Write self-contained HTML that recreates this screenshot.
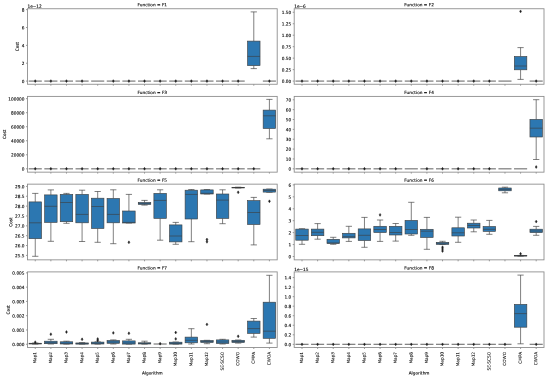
<!DOCTYPE html>
<html lang="en">
<head>
<meta charset="utf-8">
<title>Boxplots of cost per algorithm, functions F1-F8</title>
<style>
html,body{margin:0;padding:0;background:#fff;}
body{width:550px;height:378px;overflow:hidden;}
svg{display:block;}
</style>
</head>
<body>
<svg width="550" height="378" viewBox="0 0 550 378" style="display:block">
<rect width="550" height="378" fill="#fff"/>
<g font-family='"DejaVu Sans", "Liberation Sans", sans-serif' font-size="4.25" fill="#000" stroke="#000" stroke-width="0.12" text-rendering="geometricPrecision">
<g>
<line x1="28.71" x2="41.8" y1="81.1" y2="81.1" stroke="#848484" stroke-width="1.3"/>
<polygon points="35.25,79.65 36.2,81.1 35.25,82.55 34.3,81.1" fill="#1c1c1c" stroke="#1c1c1c" stroke-width="0.45"/>
<line x1="44.32" x2="57.41" y1="81.1" y2="81.1" stroke="#848484" stroke-width="1.3"/>
<polygon points="50.86,79.65 51.81,81.1 50.86,82.55 49.91,81.1" fill="#1c1c1c" stroke="#1c1c1c" stroke-width="0.45"/>
<line x1="59.93" x2="73.02" y1="81.1" y2="81.1" stroke="#848484" stroke-width="1.3"/>
<polygon points="66.47,79.65 67.42,81.1 66.47,82.55 65.52,81.1" fill="#1c1c1c" stroke="#1c1c1c" stroke-width="0.45"/>
<line x1="75.54" x2="88.63" y1="81.1" y2="81.1" stroke="#848484" stroke-width="1.3"/>
<polygon points="82.08,79.65 83.03,81.1 82.08,82.55 81.13,81.1" fill="#1c1c1c" stroke="#1c1c1c" stroke-width="0.45"/>
<line x1="91.15" x2="104.24" y1="81.1" y2="81.1" stroke="#848484" stroke-width="1.3"/>
<line x1="106.76" x2="119.85" y1="81.1" y2="81.1" stroke="#848484" stroke-width="1.3"/>
<polygon points="113.3,79.65 114.25,81.1 113.3,82.55 112.35,81.1" fill="#1c1c1c" stroke="#1c1c1c" stroke-width="0.45"/>
<line x1="122.37" x2="135.45" y1="81.1" y2="81.1" stroke="#848484" stroke-width="1.3"/>
<polygon points="128.91,79.65 129.86,81.1 128.91,82.55 127.96,81.1" fill="#1c1c1c" stroke="#1c1c1c" stroke-width="0.45"/>
<line x1="137.98" x2="151.06" y1="81.1" y2="81.1" stroke="#848484" stroke-width="1.3"/>
<polygon points="144.52,79.65 145.47,81.1 144.52,82.55 143.57,81.1" fill="#1c1c1c" stroke="#1c1c1c" stroke-width="0.45"/>
<line x1="153.59" x2="166.67" y1="81.1" y2="81.1" stroke="#848484" stroke-width="1.3"/>
<polygon points="160.13,79.65 161.08,81.1 160.13,82.55 159.18,81.1" fill="#1c1c1c" stroke="#1c1c1c" stroke-width="0.45"/>
<line x1="169.2" x2="182.28" y1="81.1" y2="81.1" stroke="#848484" stroke-width="1.3"/>
<polygon points="175.74,79.65 176.69,81.1 175.74,82.55 174.79,81.1" fill="#1c1c1c" stroke="#1c1c1c" stroke-width="0.45"/>
<line x1="184.8" x2="197.89" y1="81.1" y2="81.1" stroke="#848484" stroke-width="1.3"/>
<polygon points="191.35,79.65 192.3,81.1 191.35,82.55 190.4,81.1" fill="#1c1c1c" stroke="#1c1c1c" stroke-width="0.45"/>
<line x1="200.41" x2="213.5" y1="81.1" y2="81.1" stroke="#848484" stroke-width="1.3"/>
<polygon points="206.96,79.65 207.91,81.1 206.96,82.55 206.01,81.1" fill="#1c1c1c" stroke="#1c1c1c" stroke-width="0.45"/>
<line x1="216.02" x2="229.11" y1="81.1" y2="81.1" stroke="#848484" stroke-width="1.3"/>
<polygon points="222.57,79.65 223.52,81.1 222.57,82.55 221.62,81.1" fill="#1c1c1c" stroke="#1c1c1c" stroke-width="0.45"/>
<line x1="231.63" x2="244.72" y1="81.1" y2="81.1" stroke="#848484" stroke-width="1.3"/>
<polygon points="238.18,79.65 239.13,81.1 238.18,82.55 237.23,81.1" fill="#1c1c1c" stroke="#1c1c1c" stroke-width="0.45"/>
<path d="M253.79 11.9V41.1M253.79 65.6V68.6M250.66 11.9H256.91M250.66 68.6H256.91" stroke="#3d3d3d" stroke-width="0.66" fill="none"/>
<rect x="247.54" y="41.1" width="12.49" height="24.5" fill="#2c77b1" stroke="#3d3d3d" stroke-width="0.62"/>
<line x1="247.54" x2="260.03" y1="56.4" y2="56.4" stroke="#3d3d3d" stroke-width="0.62"/>
<line x1="262.85" x2="275.94" y1="81.1" y2="81.1" stroke="#848484" stroke-width="1.3"/>
<polygon points="269.4,79.65 270.35,81.1 269.4,82.55 268.45,81.1" fill="#1c1c1c" stroke="#1c1c1c" stroke-width="0.45"/>
<rect x="27.45" y="8.75" width="249.75" height="75.5" fill="none" stroke="#8c8c8c" stroke-width="0.88"/>
<path d="M35.25 84.25v1.46M50.86 84.25v1.46M66.47 84.25v1.46M82.08 84.25v1.46M97.69 84.25v1.46M113.3 84.25v1.46M128.91 84.25v1.46M144.52 84.25v1.46M160.13 84.25v1.46M175.74 84.25v1.46M191.35 84.25v1.46M206.96 84.25v1.46M222.57 84.25v1.46M238.18 84.25v1.46M253.79 84.25v1.46M269.4 84.25v1.46M27.45 81.1h-1.46M27.45 63.23h-1.46M27.45 45.36h-1.46M27.45 27.49h-1.46M27.45 9.62h-1.46" stroke="#8c8c8c" stroke-width="0.88" fill="none"/>
<text transform="translate(24.53 82.88) skewY(0.1)" text-anchor="end">0</text>
<text transform="translate(24.53 65.01) skewY(0.1)" text-anchor="end">2</text>
<text transform="translate(24.53 47.14) skewY(0.1)" text-anchor="end">4</text>
<text transform="translate(24.53 29.27) skewY(0.1)" text-anchor="end">6</text>
<text transform="translate(24.53 11.4) skewY(0.1)" text-anchor="end">8</text>
<text transform="translate(152.32 6.3) skewY(0.1)" text-anchor="middle">Function = F1</text>
<text transform="translate(27.45 7.85) skewY(0.1)">1e−12</text>
<text transform="translate(18.73 46.5) rotate(-90) skewY(0.1)" text-anchor="middle">Cost</text>
</g>
<g>
<line x1="295.46" x2="308.55" y1="81.1" y2="81.1" stroke="#848484" stroke-width="1.3"/>
<polygon points="302.01,79.65 302.96,81.1 302.01,82.55 301.06,81.1" fill="#1c1c1c" stroke="#1c1c1c" stroke-width="0.45"/>
<line x1="311.07" x2="324.16" y1="81.1" y2="81.1" stroke="#848484" stroke-width="1.3"/>
<polygon points="317.62,79.65 318.57,81.1 317.62,82.55 316.67,81.1" fill="#1c1c1c" stroke="#1c1c1c" stroke-width="0.45"/>
<line x1="326.69" x2="339.78" y1="81.1" y2="81.1" stroke="#848484" stroke-width="1.3"/>
<polygon points="333.23,79.65 334.18,81.1 333.23,82.55 332.28,81.1" fill="#1c1c1c" stroke="#1c1c1c" stroke-width="0.45"/>
<line x1="342.3" x2="355.39" y1="81.1" y2="81.1" stroke="#848484" stroke-width="1.3"/>
<polygon points="348.84,79.65 349.79,81.1 348.84,82.55 347.89,81.1" fill="#1c1c1c" stroke="#1c1c1c" stroke-width="0.45"/>
<line x1="357.91" x2="371" y1="81.1" y2="81.1" stroke="#848484" stroke-width="1.3"/>
<polygon points="364.46,79.65 365.41,81.1 364.46,82.55 363.51,81.1" fill="#1c1c1c" stroke="#1c1c1c" stroke-width="0.45"/>
<line x1="373.52" x2="386.61" y1="81.1" y2="81.1" stroke="#848484" stroke-width="1.3"/>
<polygon points="380.07,79.65 381.02,81.1 380.07,82.55 379.12,81.1" fill="#1c1c1c" stroke="#1c1c1c" stroke-width="0.45"/>
<line x1="389.14" x2="402.23" y1="81.1" y2="81.1" stroke="#848484" stroke-width="1.3"/>
<polygon points="395.68,79.65 396.63,81.1 395.68,82.55 394.73,81.1" fill="#1c1c1c" stroke="#1c1c1c" stroke-width="0.45"/>
<line x1="404.75" x2="417.84" y1="81.1" y2="81.1" stroke="#848484" stroke-width="1.3"/>
<polygon points="411.29,79.65 412.24,81.1 411.29,82.55 410.34,81.1" fill="#1c1c1c" stroke="#1c1c1c" stroke-width="0.45"/>
<line x1="420.36" x2="433.45" y1="81.1" y2="81.1" stroke="#848484" stroke-width="1.3"/>
<polygon points="426.91,79.65 427.86,81.1 426.91,82.55 425.96,81.1" fill="#1c1c1c" stroke="#1c1c1c" stroke-width="0.45"/>
<line x1="435.97" x2="449.06" y1="81.1" y2="81.1" stroke="#848484" stroke-width="1.3"/>
<polygon points="442.52,79.65 443.47,81.1 442.52,82.55 441.57,81.1" fill="#1c1c1c" stroke="#1c1c1c" stroke-width="0.45"/>
<line x1="451.59" x2="464.68" y1="81.1" y2="81.1" stroke="#848484" stroke-width="1.3"/>
<polygon points="458.13,79.65 459.08,81.1 458.13,82.55 457.18,81.1" fill="#1c1c1c" stroke="#1c1c1c" stroke-width="0.45"/>
<line x1="467.2" x2="480.29" y1="81.1" y2="81.1" stroke="#848484" stroke-width="1.3"/>
<polygon points="473.74,79.65 474.69,81.1 473.74,82.55 472.79,81.1" fill="#1c1c1c" stroke="#1c1c1c" stroke-width="0.45"/>
<line x1="482.81" x2="495.9" y1="81.1" y2="81.1" stroke="#848484" stroke-width="1.3"/>
<polygon points="489.36,79.65 490.31,81.1 489.36,82.55 488.41,81.1" fill="#1c1c1c" stroke="#1c1c1c" stroke-width="0.45"/>
<line x1="498.42" x2="511.51" y1="81.1" y2="81.1" stroke="#848484" stroke-width="1.3"/>
<path d="M520.58 47.6V56.5M520.58 69.8V79.4M517.46 47.6H523.7M517.46 79.4H523.7" stroke="#3d3d3d" stroke-width="0.66" fill="none"/>
<rect x="514.34" y="56.5" width="12.49" height="13.3" fill="#2c77b1" stroke="#3d3d3d" stroke-width="0.62"/>
<line x1="514.34" x2="526.83" y1="66" y2="66" stroke="#3d3d3d" stroke-width="0.62"/>
<polygon points="520.58,9.95 521.53,11.4 520.58,12.85 519.63,11.4" fill="#1c1c1c" stroke="#1c1c1c" stroke-width="0.45"/>
<line x1="529.65" x2="542.74" y1="81.1" y2="81.1" stroke="#848484" stroke-width="1.3"/>
<polygon points="536.19,79.65 537.14,81.1 536.19,82.55 535.24,81.1" fill="#1c1c1c" stroke="#1c1c1c" stroke-width="0.45"/>
<rect x="294.2" y="8.75" width="249.8" height="75.5" fill="none" stroke="#8c8c8c" stroke-width="0.88"/>
<path d="M302.01 84.25v1.46M317.62 84.25v1.46M333.23 84.25v1.46M348.84 84.25v1.46M364.46 84.25v1.46M380.07 84.25v1.46M395.68 84.25v1.46M411.29 84.25v1.46M426.91 84.25v1.46M442.52 84.25v1.46M458.13 84.25v1.46M473.74 84.25v1.46M489.36 84.25v1.46M504.97 84.25v1.46M520.58 84.25v1.46M536.19 84.25v1.46M294.2 81.1h-1.46M294.2 69.63h-1.46M294.2 58.16h-1.46M294.2 46.69h-1.46M294.2 35.22h-1.46M294.2 23.75h-1.46M294.2 12.28h-1.46" stroke="#8c8c8c" stroke-width="0.88" fill="none"/>
<text transform="translate(291.28 82.88) skewY(0.1)" text-anchor="end">0.00</text>
<text transform="translate(291.28 71.41) skewY(0.1)" text-anchor="end">0.25</text>
<text transform="translate(291.28 59.94) skewY(0.1)" text-anchor="end">0.50</text>
<text transform="translate(291.28 48.47) skewY(0.1)" text-anchor="end">0.75</text>
<text transform="translate(291.28 37) skewY(0.1)" text-anchor="end">1.00</text>
<text transform="translate(291.28 25.53) skewY(0.1)" text-anchor="end">1.25</text>
<text transform="translate(291.28 14.06) skewY(0.1)" text-anchor="end">1.50</text>
<text transform="translate(419.1 6.3) skewY(0.1)" text-anchor="middle">Function = F2</text>
<text transform="translate(294.2 7.85) skewY(0.1)">1e−6</text>
</g>
<g>
<line x1="28.71" x2="41.8" y1="168.8" y2="168.8" stroke="#848484" stroke-width="1.3"/>
<polygon points="35.25,167.35 36.2,168.8 35.25,170.25 34.3,168.8" fill="#1c1c1c" stroke="#1c1c1c" stroke-width="0.45"/>
<line x1="44.32" x2="57.41" y1="168.8" y2="168.8" stroke="#848484" stroke-width="1.3"/>
<polygon points="50.86,167.35 51.81,168.8 50.86,170.25 49.91,168.8" fill="#1c1c1c" stroke="#1c1c1c" stroke-width="0.45"/>
<line x1="59.93" x2="73.02" y1="168.8" y2="168.8" stroke="#848484" stroke-width="1.3"/>
<polygon points="66.47,167.35 67.42,168.8 66.47,170.25 65.52,168.8" fill="#1c1c1c" stroke="#1c1c1c" stroke-width="0.45"/>
<line x1="75.54" x2="88.63" y1="168.8" y2="168.8" stroke="#848484" stroke-width="1.3"/>
<polygon points="82.08,167.35 83.03,168.8 82.08,170.25 81.13,168.8" fill="#1c1c1c" stroke="#1c1c1c" stroke-width="0.45"/>
<line x1="91.15" x2="104.24" y1="168.8" y2="168.8" stroke="#848484" stroke-width="1.3"/>
<polygon points="97.69,167.35 98.64,168.8 97.69,170.25 96.74,168.8" fill="#1c1c1c" stroke="#1c1c1c" stroke-width="0.45"/>
<line x1="106.76" x2="119.85" y1="168.8" y2="168.8" stroke="#848484" stroke-width="1.3"/>
<polygon points="113.3,167.35 114.25,168.8 113.3,170.25 112.35,168.8" fill="#1c1c1c" stroke="#1c1c1c" stroke-width="0.45"/>
<line x1="122.37" x2="135.45" y1="168.8" y2="168.8" stroke="#848484" stroke-width="1.3"/>
<polygon points="128.91,167.35 129.86,168.8 128.91,170.25 127.96,168.8" fill="#1c1c1c" stroke="#1c1c1c" stroke-width="0.45"/>
<line x1="137.98" x2="151.06" y1="168.8" y2="168.8" stroke="#848484" stroke-width="1.3"/>
<polygon points="144.52,167.35 145.47,168.8 144.52,170.25 143.57,168.8" fill="#1c1c1c" stroke="#1c1c1c" stroke-width="0.45"/>
<line x1="153.59" x2="166.67" y1="168.8" y2="168.8" stroke="#848484" stroke-width="1.3"/>
<polygon points="160.13,167.35 161.08,168.8 160.13,170.25 159.18,168.8" fill="#1c1c1c" stroke="#1c1c1c" stroke-width="0.45"/>
<line x1="169.2" x2="182.28" y1="168.8" y2="168.8" stroke="#848484" stroke-width="1.3"/>
<polygon points="175.74,167.35 176.69,168.8 175.74,170.25 174.79,168.8" fill="#1c1c1c" stroke="#1c1c1c" stroke-width="0.45"/>
<line x1="184.8" x2="197.89" y1="168.8" y2="168.8" stroke="#848484" stroke-width="1.3"/>
<polygon points="191.35,167.35 192.3,168.8 191.35,170.25 190.4,168.8" fill="#1c1c1c" stroke="#1c1c1c" stroke-width="0.45"/>
<line x1="200.41" x2="213.5" y1="168.8" y2="168.8" stroke="#848484" stroke-width="1.3"/>
<polygon points="206.96,167.35 207.91,168.8 206.96,170.25 206.01,168.8" fill="#1c1c1c" stroke="#1c1c1c" stroke-width="0.45"/>
<line x1="216.02" x2="229.11" y1="168.8" y2="168.8" stroke="#848484" stroke-width="1.3"/>
<polygon points="222.57,167.35 223.52,168.8 222.57,170.25 221.62,168.8" fill="#1c1c1c" stroke="#1c1c1c" stroke-width="0.45"/>
<line x1="231.63" x2="244.72" y1="168.8" y2="168.8" stroke="#848484" stroke-width="1.3"/>
<polygon points="238.18,167.35 239.13,168.8 238.18,170.25 237.23,168.8" fill="#1c1c1c" stroke="#1c1c1c" stroke-width="0.45"/>
<line x1="247.24" x2="260.33" y1="168.8" y2="168.8" stroke="#848484" stroke-width="1.3"/>
<polygon points="253.79,167.35 254.74,168.8 253.79,170.25 252.84,168.8" fill="#1c1c1c" stroke="#1c1c1c" stroke-width="0.45"/>
<path d="M269.4 99.4V110.1M269.4 128.5V138.8M266.27 99.4H272.52M266.27 138.8H272.52" stroke="#3d3d3d" stroke-width="0.66" fill="none"/>
<rect x="263.15" y="110.1" width="12.49" height="18.4" fill="#2c77b1" stroke="#3d3d3d" stroke-width="0.62"/>
<line x1="263.15" x2="275.64" y1="115.8" y2="115.8" stroke="#3d3d3d" stroke-width="0.62"/>
<rect x="27.45" y="96.4" width="249.75" height="75.75" fill="none" stroke="#8c8c8c" stroke-width="0.88"/>
<path d="M35.25 172.15v1.46M50.86 172.15v1.46M66.47 172.15v1.46M82.08 172.15v1.46M97.69 172.15v1.46M113.3 172.15v1.46M128.91 172.15v1.46M144.52 172.15v1.46M160.13 172.15v1.46M175.74 172.15v1.46M191.35 172.15v1.46M206.96 172.15v1.46M222.57 172.15v1.46M238.18 172.15v1.46M253.79 172.15v1.46M269.4 172.15v1.46M27.45 168.8h-1.46M27.45 154.77h-1.46M27.45 140.74h-1.46M27.45 126.71h-1.46M27.45 112.68h-1.46M27.45 98.65h-1.46" stroke="#8c8c8c" stroke-width="0.88" fill="none"/>
<text transform="translate(24.53 170.58) skewY(0.1)" text-anchor="end">0</text>
<text transform="translate(24.53 156.55) skewY(0.1)" text-anchor="end">20000</text>
<text transform="translate(24.53 142.52) skewY(0.1)" text-anchor="end">40000</text>
<text transform="translate(24.53 128.49) skewY(0.1)" text-anchor="end">60000</text>
<text transform="translate(24.53 114.46) skewY(0.1)" text-anchor="end">80000</text>
<text transform="translate(24.53 100.43) skewY(0.1)" text-anchor="end">100000</text>
<text transform="translate(152.32 93.95) skewY(0.1)" text-anchor="middle">Function = F3</text>
<text transform="translate(5.93 134.28) rotate(-90) skewY(0.1)" text-anchor="middle">Cost</text>
</g>
<g>
<line x1="295.46" x2="308.55" y1="168.8" y2="168.8" stroke="#848484" stroke-width="1.3"/>
<polygon points="302.01,167.35 302.96,168.8 302.01,170.25 301.06,168.8" fill="#1c1c1c" stroke="#1c1c1c" stroke-width="0.45"/>
<line x1="311.07" x2="324.16" y1="168.8" y2="168.8" stroke="#848484" stroke-width="1.3"/>
<polygon points="317.62,167.35 318.57,168.8 317.62,170.25 316.67,168.8" fill="#1c1c1c" stroke="#1c1c1c" stroke-width="0.45"/>
<line x1="326.69" x2="339.78" y1="168.8" y2="168.8" stroke="#848484" stroke-width="1.3"/>
<polygon points="333.23,167.35 334.18,168.8 333.23,170.25 332.28,168.8" fill="#1c1c1c" stroke="#1c1c1c" stroke-width="0.45"/>
<line x1="342.3" x2="355.39" y1="168.8" y2="168.8" stroke="#848484" stroke-width="1.3"/>
<polygon points="348.84,167.35 349.79,168.8 348.84,170.25 347.89,168.8" fill="#1c1c1c" stroke="#1c1c1c" stroke-width="0.45"/>
<line x1="357.91" x2="371" y1="168.8" y2="168.8" stroke="#848484" stroke-width="1.3"/>
<polygon points="364.46,167.35 365.41,168.8 364.46,170.25 363.51,168.8" fill="#1c1c1c" stroke="#1c1c1c" stroke-width="0.45"/>
<line x1="373.52" x2="386.61" y1="168.8" y2="168.8" stroke="#848484" stroke-width="1.3"/>
<polygon points="380.07,167.35 381.02,168.8 380.07,170.25 379.12,168.8" fill="#1c1c1c" stroke="#1c1c1c" stroke-width="0.45"/>
<line x1="389.14" x2="402.23" y1="168.8" y2="168.8" stroke="#848484" stroke-width="1.3"/>
<polygon points="395.68,167.35 396.63,168.8 395.68,170.25 394.73,168.8" fill="#1c1c1c" stroke="#1c1c1c" stroke-width="0.45"/>
<line x1="404.75" x2="417.84" y1="168.8" y2="168.8" stroke="#848484" stroke-width="1.3"/>
<line x1="420.36" x2="433.45" y1="168.8" y2="168.8" stroke="#848484" stroke-width="1.3"/>
<polygon points="426.91,167.35 427.86,168.8 426.91,170.25 425.96,168.8" fill="#1c1c1c" stroke="#1c1c1c" stroke-width="0.45"/>
<line x1="435.97" x2="449.06" y1="168.8" y2="168.8" stroke="#848484" stroke-width="1.3"/>
<polygon points="442.52,167.35 443.47,168.8 442.52,170.25 441.57,168.8" fill="#1c1c1c" stroke="#1c1c1c" stroke-width="0.45"/>
<line x1="451.59" x2="464.68" y1="168.8" y2="168.8" stroke="#848484" stroke-width="1.3"/>
<polygon points="458.13,167.35 459.08,168.8 458.13,170.25 457.18,168.8" fill="#1c1c1c" stroke="#1c1c1c" stroke-width="0.45"/>
<line x1="467.2" x2="480.29" y1="168.8" y2="168.8" stroke="#848484" stroke-width="1.3"/>
<polygon points="473.74,167.35 474.69,168.8 473.74,170.25 472.79,168.8" fill="#1c1c1c" stroke="#1c1c1c" stroke-width="0.45"/>
<line x1="482.81" x2="495.9" y1="168.8" y2="168.8" stroke="#848484" stroke-width="1.3"/>
<polygon points="489.36,167.35 490.31,168.8 489.36,170.25 488.41,168.8" fill="#1c1c1c" stroke="#1c1c1c" stroke-width="0.45"/>
<line x1="498.42" x2="511.51" y1="168.8" y2="168.8" stroke="#848484" stroke-width="1.3"/>
<line x1="514.04" x2="527.13" y1="168.8" y2="168.8" stroke="#848484" stroke-width="1.3"/>
<path d="M536.19 99.7V119.4M536.19 137V159.5M533.07 99.7H539.32M533.07 159.5H539.32" stroke="#3d3d3d" stroke-width="0.66" fill="none"/>
<rect x="529.95" y="119.4" width="12.49" height="17.6" fill="#2c77b1" stroke="#3d3d3d" stroke-width="0.62"/>
<line x1="529.95" x2="542.44" y1="128.2" y2="128.2" stroke="#3d3d3d" stroke-width="0.62"/>
<polygon points="536.19,165.55 537.14,167 536.19,168.45 535.24,167" fill="#1c1c1c" stroke="#1c1c1c" stroke-width="0.45"/>
<rect x="294.2" y="96.4" width="249.8" height="75.75" fill="none" stroke="#8c8c8c" stroke-width="0.88"/>
<path d="M302.01 172.15v1.46M317.62 172.15v1.46M333.23 172.15v1.46M348.84 172.15v1.46M364.46 172.15v1.46M380.07 172.15v1.46M395.68 172.15v1.46M411.29 172.15v1.46M426.91 172.15v1.46M442.52 172.15v1.46M458.13 172.15v1.46M473.74 172.15v1.46M489.36 172.15v1.46M504.97 172.15v1.46M520.58 172.15v1.46M536.19 172.15v1.46M294.2 168.8h-1.46M294.2 158.94h-1.46M294.2 149.08h-1.46M294.2 139.22h-1.46M294.2 129.36h-1.46M294.2 119.5h-1.46M294.2 109.64h-1.46M294.2 99.78h-1.46" stroke="#8c8c8c" stroke-width="0.88" fill="none"/>
<text transform="translate(291.28 170.58) skewY(0.1)" text-anchor="end">0</text>
<text transform="translate(291.28 160.72) skewY(0.1)" text-anchor="end">10</text>
<text transform="translate(291.28 150.86) skewY(0.1)" text-anchor="end">20</text>
<text transform="translate(291.28 141) skewY(0.1)" text-anchor="end">30</text>
<text transform="translate(291.28 131.14) skewY(0.1)" text-anchor="end">40</text>
<text transform="translate(291.28 121.28) skewY(0.1)" text-anchor="end">50</text>
<text transform="translate(291.28 111.42) skewY(0.1)" text-anchor="end">60</text>
<text transform="translate(291.28 101.56) skewY(0.1)" text-anchor="end">70</text>
<text transform="translate(419.1 93.95) skewY(0.1)" text-anchor="middle">Function = F4</text>
</g>
<g>
<path d="M35.25 193.4V201.9M35.25 238.7V256.3M32.13 193.4H38.38M32.13 256.3H38.38" stroke="#3d3d3d" stroke-width="0.66" fill="none"/>
<rect x="29.01" y="201.9" width="12.49" height="36.8" fill="#2c77b1" stroke="#3d3d3d" stroke-width="0.62"/>
<line x1="29.01" x2="41.5" y1="222.8" y2="222.8" stroke="#3d3d3d" stroke-width="0.62"/>
<path d="M50.86 189.9V194.9M50.86 222.4V241.3M47.74 189.9H53.99M47.74 241.3H53.99" stroke="#3d3d3d" stroke-width="0.66" fill="none"/>
<rect x="44.62" y="194.9" width="12.49" height="27.5" fill="#2c77b1" stroke="#3d3d3d" stroke-width="0.62"/>
<line x1="44.62" x2="57.11" y1="206.3" y2="206.3" stroke="#3d3d3d" stroke-width="0.62"/>
<path d="M66.47 193.4V194.4M66.47 221.7V223.3M63.35 193.4H69.6M63.35 223.3H69.6" stroke="#3d3d3d" stroke-width="0.66" fill="none"/>
<rect x="60.23" y="194.4" width="12.49" height="27.3" fill="#2c77b1" stroke="#3d3d3d" stroke-width="0.62"/>
<line x1="60.23" x2="72.72" y1="202.5" y2="202.5" stroke="#3d3d3d" stroke-width="0.62"/>
<path d="M82.08 190.2V194.4M82.08 222.8V241.5M78.96 190.2H85.2M78.96 241.5H85.2" stroke="#3d3d3d" stroke-width="0.66" fill="none"/>
<rect x="75.84" y="194.4" width="12.49" height="28.4" fill="#2c77b1" stroke="#3d3d3d" stroke-width="0.62"/>
<line x1="75.84" x2="88.33" y1="214.4" y2="214.4" stroke="#3d3d3d" stroke-width="0.62"/>
<path d="M97.69 191.5V198.2M97.69 228.5V242.3M94.57 191.5H100.81M94.57 242.3H100.81" stroke="#3d3d3d" stroke-width="0.66" fill="none"/>
<rect x="91.45" y="198.2" width="12.49" height="30.3" fill="#2c77b1" stroke="#3d3d3d" stroke-width="0.62"/>
<line x1="91.45" x2="103.94" y1="206.5" y2="206.5" stroke="#3d3d3d" stroke-width="0.62"/>
<path d="M113.3 189.8V198.5M113.3 222.8V243.7M110.18 189.8H116.42M110.18 243.7H116.42" stroke="#3d3d3d" stroke-width="0.66" fill="none"/>
<rect x="107.06" y="198.5" width="12.49" height="24.3" fill="#2c77b1" stroke="#3d3d3d" stroke-width="0.62"/>
<line x1="107.06" x2="119.55" y1="214.4" y2="214.4" stroke="#3d3d3d" stroke-width="0.62"/>
<path d="M128.91 194.4V211M128.91 223V223M125.79 194.4H132.03M125.79 223H132.03" stroke="#3d3d3d" stroke-width="0.66" fill="none"/>
<rect x="122.67" y="211" width="12.49" height="12" fill="#2c77b1" stroke="#3d3d3d" stroke-width="0.62"/>
<line x1="122.67" x2="135.15" y1="222.4" y2="222.4" stroke="#3d3d3d" stroke-width="0.62"/>
<polygon points="128.91,240.85 129.86,242.3 128.91,243.75 127.96,242.3" fill="#1c1c1c" stroke="#1c1c1c" stroke-width="0.45"/>
<path d="M144.52 200.4V202.5M144.52 204.4V205.1M141.4 200.4H147.64M141.4 205.1H147.64" stroke="#3d3d3d" stroke-width="0.66" fill="none"/>
<rect x="138.28" y="202.5" width="12.49" height="1.9" fill="#2c77b1" stroke="#3d3d3d" stroke-width="0.62"/>
<line x1="138.28" x2="150.76" y1="203.4" y2="203.4" stroke="#3d3d3d" stroke-width="0.62"/>
<path d="M160.13 189.8V193.4M160.13 218.4V240.2M157.01 189.8H163.25M157.01 240.2H163.25" stroke="#3d3d3d" stroke-width="0.66" fill="none"/>
<rect x="153.89" y="193.4" width="12.49" height="25" fill="#2c77b1" stroke="#3d3d3d" stroke-width="0.62"/>
<line x1="153.89" x2="166.37" y1="200.4" y2="200.4" stroke="#3d3d3d" stroke-width="0.62"/>
<path d="M175.74 222.4V224.9M175.74 241.9V244.3M172.62 222.4H178.86M172.62 244.3H178.86" stroke="#3d3d3d" stroke-width="0.66" fill="none"/>
<rect x="169.5" y="224.9" width="12.49" height="17" fill="#2c77b1" stroke="#3d3d3d" stroke-width="0.62"/>
<line x1="169.5" x2="181.98" y1="236" y2="236" stroke="#3d3d3d" stroke-width="0.62"/>
<path d="M191.35 189.5V190.2M191.35 219V241.7M188.23 189.5H194.47M188.23 241.7H194.47" stroke="#3d3d3d" stroke-width="0.66" fill="none"/>
<rect x="185.1" y="190.2" width="12.49" height="28.8" fill="#2c77b1" stroke="#3d3d3d" stroke-width="0.62"/>
<line x1="185.1" x2="197.59" y1="194.4" y2="194.4" stroke="#3d3d3d" stroke-width="0.62"/>
<path d="M206.96 189.5V189.9M206.96 194V194M203.84 189.5H210.08M203.84 194H210.08" stroke="#3d3d3d" stroke-width="0.66" fill="none"/>
<rect x="200.71" y="189.9" width="12.49" height="4.1" fill="#2c77b1" stroke="#3d3d3d" stroke-width="0.62"/>
<line x1="200.71" x2="213.2" y1="193.3" y2="193.3" stroke="#3d3d3d" stroke-width="0.62"/>
<polygon points="206.96,238.05 207.91,239.5 206.96,240.95 206.01,239.5" fill="#1c1c1c" stroke="#1c1c1c" stroke-width="0.45"/>
<polygon points="206.96,240.35 207.91,241.8 206.96,243.25 206.01,241.8" fill="#1c1c1c" stroke="#1c1c1c" stroke-width="0.45"/>
<path d="M222.57 189.8V194M222.57 218.4V223.7M219.45 189.8H225.69M219.45 223.7H225.69" stroke="#3d3d3d" stroke-width="0.66" fill="none"/>
<rect x="216.32" y="194" width="12.49" height="24.4" fill="#2c77b1" stroke="#3d3d3d" stroke-width="0.62"/>
<line x1="216.32" x2="228.81" y1="200.1" y2="200.1" stroke="#3d3d3d" stroke-width="0.62"/>
<path d="M238.18 187.2V187.3M238.18 187.9V188M235.05 187.2H241.3M235.05 188H241.3" stroke="#3d3d3d" stroke-width="0.66" fill="none"/>
<rect x="231.93" y="187.3" width="12.49" height="0.6" fill="#2c77b1" stroke="#3d3d3d" stroke-width="0.62"/>
<line x1="231.93" x2="244.42" y1="187.6" y2="187.6" stroke="#3d3d3d" stroke-width="0.62"/>
<polygon points="238.18,190.85 239.13,192.3 238.18,193.75 237.23,192.3" fill="#1c1c1c" stroke="#1c1c1c" stroke-width="0.45"/>
<path d="M253.79 197.4V200.6M253.79 224.5V244.9M250.66 197.4H256.91M250.66 244.9H256.91" stroke="#3d3d3d" stroke-width="0.66" fill="none"/>
<rect x="247.54" y="200.6" width="12.49" height="23.9" fill="#2c77b1" stroke="#3d3d3d" stroke-width="0.62"/>
<line x1="247.54" x2="260.03" y1="212.5" y2="212.5" stroke="#3d3d3d" stroke-width="0.62"/>
<path d="M269.4 189V189.2M269.4 192.1V192.3M266.27 189H272.52M266.27 192.3H272.52" stroke="#3d3d3d" stroke-width="0.66" fill="none"/>
<rect x="263.15" y="189.2" width="12.49" height="2.9" fill="#2c77b1" stroke="#3d3d3d" stroke-width="0.62"/>
<line x1="263.15" x2="275.64" y1="190.5" y2="190.5" stroke="#3d3d3d" stroke-width="0.62"/>
<polygon points="269.4,199.85 270.35,201.3 269.4,202.75 268.45,201.3" fill="#1c1c1c" stroke="#1c1c1c" stroke-width="0.45"/>
<rect x="27.45" y="184.15" width="249.75" height="75.7" fill="none" stroke="#8c8c8c" stroke-width="0.88"/>
<path d="M35.25 259.85v1.46M50.86 259.85v1.46M66.47 259.85v1.46M82.08 259.85v1.46M97.69 259.85v1.46M113.3 259.85v1.46M128.91 259.85v1.46M144.52 259.85v1.46M160.13 259.85v1.46M175.74 259.85v1.46M191.35 259.85v1.46M206.96 259.85v1.46M222.57 259.85v1.46M238.18 259.85v1.46M253.79 259.85v1.46M269.4 259.85v1.46M27.45 186.4h-1.46M27.45 196.26h-1.46M27.45 206.11h-1.46M27.45 215.97h-1.46M27.45 225.83h-1.46M27.45 235.69h-1.46M27.45 245.54h-1.46M27.45 255.4h-1.46" stroke="#8c8c8c" stroke-width="0.88" fill="none"/>
<text transform="translate(24.53 188.18) skewY(0.1)" text-anchor="end">29.0</text>
<text transform="translate(24.53 198.04) skewY(0.1)" text-anchor="end">28.5</text>
<text transform="translate(24.53 207.89) skewY(0.1)" text-anchor="end">28.0</text>
<text transform="translate(24.53 217.75) skewY(0.1)" text-anchor="end">27.5</text>
<text transform="translate(24.53 227.61) skewY(0.1)" text-anchor="end">27.0</text>
<text transform="translate(24.53 237.47) skewY(0.1)" text-anchor="end">26.5</text>
<text transform="translate(24.53 247.32) skewY(0.1)" text-anchor="end">26.0</text>
<text transform="translate(24.53 257.18) skewY(0.1)" text-anchor="end">25.5</text>
<text transform="translate(152.32 181.7) skewY(0.1)" text-anchor="middle">Function = F5</text>
<text transform="translate(12.23 222) rotate(-90) skewY(0.1)" text-anchor="middle">Cost</text>
</g>
<g>
<path d="M302.01 228.7V229.1M302.01 240.2V244.3M298.88 228.7H305.13M298.88 244.3H305.13" stroke="#3d3d3d" stroke-width="0.66" fill="none"/>
<rect x="295.76" y="229.1" width="12.49" height="11.1" fill="#2c77b1" stroke="#3d3d3d" stroke-width="0.62"/>
<line x1="295.76" x2="308.25" y1="235.5" y2="235.5" stroke="#3d3d3d" stroke-width="0.62"/>
<path d="M317.62 223.6V229.1M317.62 235.7V239.2M314.5 223.6H320.74M314.5 239.2H320.74" stroke="#3d3d3d" stroke-width="0.66" fill="none"/>
<rect x="311.37" y="229.1" width="12.49" height="6.6" fill="#2c77b1" stroke="#3d3d3d" stroke-width="0.62"/>
<line x1="311.37" x2="323.86" y1="232.3" y2="232.3" stroke="#3d3d3d" stroke-width="0.62"/>
<path d="M333.23 237.3V239.3M333.23 243.5V244.3M330.11 237.3H336.35M330.11 244.3H336.35" stroke="#3d3d3d" stroke-width="0.66" fill="none"/>
<rect x="326.99" y="239.3" width="12.49" height="4.2" fill="#2c77b1" stroke="#3d3d3d" stroke-width="0.62"/>
<line x1="326.99" x2="339.48" y1="242.9" y2="242.9" stroke="#3d3d3d" stroke-width="0.62"/>
<path d="M348.84 226.3V233.3M348.84 237.9V241.4M345.72 226.3H351.97M345.72 241.4H351.97" stroke="#3d3d3d" stroke-width="0.66" fill="none"/>
<rect x="342.6" y="233.3" width="12.49" height="4.6" fill="#2c77b1" stroke="#3d3d3d" stroke-width="0.62"/>
<line x1="342.6" x2="355.09" y1="236.7" y2="236.7" stroke="#3d3d3d" stroke-width="0.62"/>
<path d="M364.46 217.4V228.9M364.46 240.5V247.3M361.33 217.4H367.58M361.33 247.3H367.58" stroke="#3d3d3d" stroke-width="0.66" fill="none"/>
<rect x="358.21" y="228.9" width="12.49" height="11.6" fill="#2c77b1" stroke="#3d3d3d" stroke-width="0.62"/>
<line x1="358.21" x2="370.7" y1="235.3" y2="235.3" stroke="#3d3d3d" stroke-width="0.62"/>
<path d="M380.07 220V226.3M380.07 232.5V241.4M376.95 220H383.19M376.95 241.4H383.19" stroke="#3d3d3d" stroke-width="0.66" fill="none"/>
<rect x="373.82" y="226.3" width="12.49" height="6.2" fill="#2c77b1" stroke="#3d3d3d" stroke-width="0.62"/>
<line x1="373.82" x2="386.31" y1="229.5" y2="229.5" stroke="#3d3d3d" stroke-width="0.62"/>
<polygon points="380.07,213.45 381.02,214.9 380.07,216.35 379.12,214.9" fill="#1c1c1c" stroke="#1c1c1c" stroke-width="0.45"/>
<path d="M395.68 223.5V226.3M395.68 235V241.1M392.56 223.5H398.8M392.56 241.1H398.8" stroke="#3d3d3d" stroke-width="0.66" fill="none"/>
<rect x="389.44" y="226.3" width="12.49" height="8.7" fill="#2c77b1" stroke="#3d3d3d" stroke-width="0.62"/>
<line x1="389.44" x2="401.93" y1="232.5" y2="232.5" stroke="#3d3d3d" stroke-width="0.62"/>
<path d="M411.29 202.3V220.4M411.29 234V235.3M408.17 202.3H414.42M408.17 235.3H414.42" stroke="#3d3d3d" stroke-width="0.66" fill="none"/>
<rect x="405.05" y="220.4" width="12.49" height="13.6" fill="#2c77b1" stroke="#3d3d3d" stroke-width="0.62"/>
<line x1="405.05" x2="417.54" y1="229.5" y2="229.5" stroke="#3d3d3d" stroke-width="0.62"/>
<path d="M426.91 217.4V229.3M426.91 237.5V249.3M423.78 217.4H430.03M423.78 249.3H430.03" stroke="#3d3d3d" stroke-width="0.66" fill="none"/>
<rect x="420.66" y="229.3" width="12.49" height="8.2" fill="#2c77b1" stroke="#3d3d3d" stroke-width="0.62"/>
<line x1="420.66" x2="433.15" y1="231.2" y2="231.2" stroke="#3d3d3d" stroke-width="0.62"/>
<path d="M442.52 241.3V242.4M442.52 244.4V244.4M439.4 241.3H445.64M439.4 244.4H445.64" stroke="#3d3d3d" stroke-width="0.66" fill="none"/>
<rect x="436.27" y="242.4" width="12.49" height="2" fill="#2c77b1" stroke="#3d3d3d" stroke-width="0.62"/>
<line x1="436.27" x2="448.76" y1="243.3" y2="243.3" stroke="#3d3d3d" stroke-width="0.62"/>
<polygon points="442.52,245.75 443.47,247.2 442.52,248.65 441.57,247.2" fill="#1c1c1c" stroke="#1c1c1c" stroke-width="0.45"/>
<polygon points="442.52,247.55 443.47,249 442.52,250.45 441.57,249" fill="#1c1c1c" stroke="#1c1c1c" stroke-width="0.45"/>
<polygon points="442.52,249.55 443.47,251 442.52,252.45 441.57,251" fill="#1c1c1c" stroke="#1c1c1c" stroke-width="0.45"/>
<path d="M458.13 217.2V227.8M458.13 236V242.3M455.01 217.2H461.25M455.01 242.3H461.25" stroke="#3d3d3d" stroke-width="0.66" fill="none"/>
<rect x="451.89" y="227.8" width="12.49" height="8.2" fill="#2c77b1" stroke="#3d3d3d" stroke-width="0.62"/>
<line x1="451.89" x2="464.38" y1="232.8" y2="232.8" stroke="#3d3d3d" stroke-width="0.62"/>
<path d="M473.74 220V223.2M473.74 228V231.8M470.62 220H476.87M470.62 231.8H476.87" stroke="#3d3d3d" stroke-width="0.66" fill="none"/>
<rect x="467.5" y="223.2" width="12.49" height="4.8" fill="#2c77b1" stroke="#3d3d3d" stroke-width="0.62"/>
<line x1="467.5" x2="479.99" y1="225.5" y2="225.5" stroke="#3d3d3d" stroke-width="0.62"/>
<path d="M489.36 220.4V226.5M489.36 231.4V234.3M486.23 220.4H492.48M486.23 234.3H492.48" stroke="#3d3d3d" stroke-width="0.66" fill="none"/>
<rect x="483.11" y="226.5" width="12.49" height="4.9" fill="#2c77b1" stroke="#3d3d3d" stroke-width="0.62"/>
<line x1="483.11" x2="495.6" y1="229.3" y2="229.3" stroke="#3d3d3d" stroke-width="0.62"/>
<path d="M504.97 187.2V188M504.97 190.8V192.8M501.85 187.2H508.09M501.85 192.8H508.09" stroke="#3d3d3d" stroke-width="0.66" fill="none"/>
<rect x="498.72" y="188" width="12.49" height="2.8" fill="#2c77b1" stroke="#3d3d3d" stroke-width="0.62"/>
<line x1="498.72" x2="511.21" y1="189.4" y2="189.4" stroke="#3d3d3d" stroke-width="0.62"/>
<path d="M520.58 255.45V255.55M520.58 256.05V256.15M517.46 255.45H523.7M517.46 256.15H523.7" stroke="#3d3d3d" stroke-width="0.66" fill="none"/>
<rect x="514.34" y="255.55" width="12.49" height="0.5" fill="#2c77b1" stroke="#3d3d3d" stroke-width="0.62"/>
<line x1="514.34" x2="526.83" y1="255.8" y2="255.8" stroke="#3d3d3d" stroke-width="0.62"/>
<polygon points="520.58,252.35 521.53,253.8 520.58,255.25 519.63,253.8" fill="#1c1c1c" stroke="#1c1c1c" stroke-width="0.45"/>
<path d="M536.19 226.4V229.2M536.19 232.6V235.3M533.07 226.4H539.32M533.07 235.3H539.32" stroke="#3d3d3d" stroke-width="0.66" fill="none"/>
<rect x="529.95" y="229.2" width="12.49" height="3.4" fill="#2c77b1" stroke="#3d3d3d" stroke-width="0.62"/>
<line x1="529.95" x2="542.44" y1="231" y2="231" stroke="#3d3d3d" stroke-width="0.62"/>
<polygon points="536.19,220.15 537.14,221.6 536.19,223.05 535.24,221.6" fill="#1c1c1c" stroke="#1c1c1c" stroke-width="0.45"/>
<rect x="294.2" y="184.15" width="249.8" height="75.7" fill="none" stroke="#8c8c8c" stroke-width="0.88"/>
<path d="M302.01 259.85v1.46M317.62 259.85v1.46M333.23 259.85v1.46M348.84 259.85v1.46M364.46 259.85v1.46M380.07 259.85v1.46M395.68 259.85v1.46M411.29 259.85v1.46M426.91 259.85v1.46M442.52 259.85v1.46M458.13 259.85v1.46M473.74 259.85v1.46M489.36 259.85v1.46M504.97 259.85v1.46M520.58 259.85v1.46M536.19 259.85v1.46M294.2 256.5h-1.46M294.2 244.57h-1.46M294.2 232.64h-1.46M294.2 220.71h-1.46M294.2 208.78h-1.46M294.2 196.85h-1.46M294.2 184.92h-1.46" stroke="#8c8c8c" stroke-width="0.88" fill="none"/>
<text transform="translate(291.28 258.28) skewY(0.1)" text-anchor="end">0</text>
<text transform="translate(291.28 246.35) skewY(0.1)" text-anchor="end">1</text>
<text transform="translate(291.28 234.42) skewY(0.1)" text-anchor="end">2</text>
<text transform="translate(291.28 222.49) skewY(0.1)" text-anchor="end">3</text>
<text transform="translate(291.28 210.56) skewY(0.1)" text-anchor="end">4</text>
<text transform="translate(291.28 198.63) skewY(0.1)" text-anchor="end">5</text>
<text transform="translate(291.28 186.7) skewY(0.1)" text-anchor="end">6</text>
<text transform="translate(419.1 181.7) skewY(0.1)" text-anchor="middle">Function = F6</text>
</g>
<g>
<path d="M35.25 343V343.25M35.25 343.95V344.1M32.13 343H38.38M32.13 344.1H38.38" stroke="#3d3d3d" stroke-width="0.66" fill="none"/>
<rect x="29.01" y="343.25" width="12.49" height="0.7" fill="#2c77b1" stroke="#3d3d3d" stroke-width="0.62"/>
<line x1="29.01" x2="41.5" y1="343.6" y2="343.6" stroke="#3d3d3d" stroke-width="0.62"/>
<polygon points="35.25,340.75 36.2,342.2 35.25,343.65 34.3,342.2" fill="#1c1c1c" stroke="#1c1c1c" stroke-width="0.45"/>
<path d="M50.86 339.3V341.2M50.86 343.7V344M47.74 339.3H53.99M47.74 344H53.99" stroke="#3d3d3d" stroke-width="0.66" fill="none"/>
<rect x="44.62" y="341.2" width="12.49" height="2.5" fill="#2c77b1" stroke="#3d3d3d" stroke-width="0.62"/>
<line x1="44.62" x2="57.11" y1="342.8" y2="342.8" stroke="#3d3d3d" stroke-width="0.62"/>
<polygon points="50.86,332.75 51.81,334.2 50.86,335.65 49.91,334.2" fill="#1c1c1c" stroke="#1c1c1c" stroke-width="0.45"/>
<path d="M66.47 341.2V341.8M66.47 344V344.1M63.35 341.2H69.6M63.35 344.1H69.6" stroke="#3d3d3d" stroke-width="0.66" fill="none"/>
<rect x="60.23" y="341.8" width="12.49" height="2.2" fill="#2c77b1" stroke="#3d3d3d" stroke-width="0.62"/>
<line x1="60.23" x2="72.72" y1="343.3" y2="343.3" stroke="#3d3d3d" stroke-width="0.62"/>
<polygon points="66.47,330.55 67.42,332 66.47,333.45 65.52,332" fill="#1c1c1c" stroke="#1c1c1c" stroke-width="0.45"/>
<path d="M82.08 342.6V342.95M82.08 344.1V344.1M78.96 342.6H85.2M78.96 344.1H85.2" stroke="#3d3d3d" stroke-width="0.66" fill="none"/>
<rect x="75.84" y="342.95" width="12.49" height="1.15" fill="#2c77b1" stroke="#3d3d3d" stroke-width="0.62"/>
<line x1="75.84" x2="88.33" y1="343.6" y2="343.6" stroke="#3d3d3d" stroke-width="0.62"/>
<polygon points="82.08,337.85 83.03,339.3 82.08,340.75 81.13,339.3" fill="#1c1c1c" stroke="#1c1c1c" stroke-width="0.45"/>
<path d="M97.69 341.8V342.1M97.69 344V344.1M94.57 341.8H100.81M94.57 344.1H100.81" stroke="#3d3d3d" stroke-width="0.66" fill="none"/>
<rect x="91.45" y="342.1" width="12.49" height="1.9" fill="#2c77b1" stroke="#3d3d3d" stroke-width="0.62"/>
<line x1="91.45" x2="103.94" y1="343.3" y2="343.3" stroke="#3d3d3d" stroke-width="0.62"/>
<polygon points="97.69,337.55 98.64,339 97.69,340.45 96.74,339" fill="#1c1c1c" stroke="#1c1c1c" stroke-width="0.45"/>
<polygon points="97.69,339.05 98.64,340.5 97.69,341.95 96.74,340.5" fill="#1c1c1c" stroke="#1c1c1c" stroke-width="0.45"/>
<path d="M113.3 339.9V340.5M113.3 343.3V344M110.18 339.9H116.42M110.18 344H116.42" stroke="#3d3d3d" stroke-width="0.66" fill="none"/>
<rect x="107.06" y="340.5" width="12.49" height="2.8" fill="#2c77b1" stroke="#3d3d3d" stroke-width="0.62"/>
<line x1="107.06" x2="119.55" y1="342" y2="342" stroke="#3d3d3d" stroke-width="0.62"/>
<polygon points="113.3,331.45 114.25,332.9 113.3,334.35 112.35,332.9" fill="#1c1c1c" stroke="#1c1c1c" stroke-width="0.45"/>
<path d="M128.91 339.3V340.9M128.91 344.1V344.1M125.79 339.3H132.03M125.79 344.1H132.03" stroke="#3d3d3d" stroke-width="0.66" fill="none"/>
<rect x="122.67" y="340.9" width="12.49" height="3.2" fill="#2c77b1" stroke="#3d3d3d" stroke-width="0.62"/>
<line x1="122.67" x2="135.15" y1="343" y2="343" stroke="#3d3d3d" stroke-width="0.62"/>
<polygon points="128.91,331.85 129.86,333.3 128.91,334.75 127.96,333.3" fill="#1c1c1c" stroke="#1c1c1c" stroke-width="0.45"/>
<path d="M144.52 341.2V342.8M144.52 344V344.1M141.4 341.2H147.64M141.4 344.1H147.64" stroke="#3d3d3d" stroke-width="0.66" fill="none"/>
<rect x="138.28" y="342.8" width="12.49" height="1.2" fill="#2c77b1" stroke="#3d3d3d" stroke-width="0.62"/>
<line x1="138.28" x2="150.76" y1="343.4" y2="343.4" stroke="#3d3d3d" stroke-width="0.62"/>
<line x1="153.59" x2="166.67" y1="344" y2="344" stroke="#848484" stroke-width="1.3"/>
<polygon points="160.13,342.25 161.08,343.7 160.13,345.15 159.18,343.7" fill="#1c1c1c" stroke="#1c1c1c" stroke-width="0.45"/>
<path d="M175.74 342V342.2M175.74 344.1V344.1M172.62 342H178.86M172.62 344.1H178.86" stroke="#3d3d3d" stroke-width="0.66" fill="none"/>
<rect x="169.5" y="342.2" width="12.49" height="1.9" fill="#2c77b1" stroke="#3d3d3d" stroke-width="0.62"/>
<line x1="169.5" x2="181.98" y1="343.4" y2="343.4" stroke="#3d3d3d" stroke-width="0.62"/>
<polygon points="175.74,331.05 176.69,332.5 175.74,333.95 174.79,332.5" fill="#1c1c1c" stroke="#1c1c1c" stroke-width="0.45"/>
<polygon points="175.74,337.45 176.69,338.9 175.74,340.35 174.79,338.9" fill="#1c1c1c" stroke="#1c1c1c" stroke-width="0.45"/>
<path d="M191.35 328.7V337.1M191.35 342.8V344M188.23 328.7H194.47M188.23 344H194.47" stroke="#3d3d3d" stroke-width="0.66" fill="none"/>
<rect x="185.1" y="337.1" width="12.49" height="5.7" fill="#2c77b1" stroke="#3d3d3d" stroke-width="0.62"/>
<line x1="185.1" x2="197.59" y1="340.3" y2="340.3" stroke="#3d3d3d" stroke-width="0.62"/>
<path d="M206.96 340.3V340.5M206.96 342.5V343.7M203.84 340.3H210.08M203.84 343.7H210.08" stroke="#3d3d3d" stroke-width="0.66" fill="none"/>
<rect x="200.71" y="340.5" width="12.49" height="2" fill="#2c77b1" stroke="#3d3d3d" stroke-width="0.62"/>
<line x1="200.71" x2="213.2" y1="341.5" y2="341.5" stroke="#3d3d3d" stroke-width="0.62"/>
<polygon points="206.96,322.95 207.91,324.4 206.96,325.85 206.01,324.4" fill="#1c1c1c" stroke="#1c1c1c" stroke-width="0.45"/>
<path d="M222.57 339.3V339.9M222.57 343.5V344M219.45 339.3H225.69M219.45 344H225.69" stroke="#3d3d3d" stroke-width="0.66" fill="none"/>
<rect x="216.32" y="339.9" width="12.49" height="3.6" fill="#2c77b1" stroke="#3d3d3d" stroke-width="0.62"/>
<line x1="216.32" x2="228.81" y1="342" y2="342" stroke="#3d3d3d" stroke-width="0.62"/>
<path d="M238.18 340V340.3M238.18 342.5V343.1M235.05 340H241.3M235.05 343.1H241.3" stroke="#3d3d3d" stroke-width="0.66" fill="none"/>
<rect x="231.93" y="340.3" width="12.49" height="2.2" fill="#2c77b1" stroke="#3d3d3d" stroke-width="0.62"/>
<line x1="231.93" x2="244.42" y1="341.5" y2="341.5" stroke="#3d3d3d" stroke-width="0.62"/>
<polygon points="238.18,334.85 239.13,336.3 238.18,337.75 237.23,336.3" fill="#1c1c1c" stroke="#1c1c1c" stroke-width="0.45"/>
<path d="M253.79 318.5V321.1M253.79 333.4V337.1M250.66 318.5H256.91M250.66 337.1H256.91" stroke="#3d3d3d" stroke-width="0.66" fill="none"/>
<rect x="247.54" y="321.1" width="12.49" height="12.3" fill="#2c77b1" stroke="#3d3d3d" stroke-width="0.62"/>
<line x1="247.54" x2="260.03" y1="328.6" y2="328.6" stroke="#3d3d3d" stroke-width="0.62"/>
<path d="M269.4 275.3V302.2M269.4 338.3V343.1M266.27 275.3H272.52M266.27 343.1H272.52" stroke="#3d3d3d" stroke-width="0.66" fill="none"/>
<rect x="263.15" y="302.2" width="12.49" height="36.1" fill="#2c77b1" stroke="#3d3d3d" stroke-width="0.62"/>
<line x1="263.15" x2="275.64" y1="331.2" y2="331.2" stroke="#3d3d3d" stroke-width="0.62"/>
<rect x="27.45" y="271.9" width="249.75" height="75.6" fill="none" stroke="#8c8c8c" stroke-width="0.88"/>
<path d="M35.25 347.5v1.46M50.86 347.5v1.46M66.47 347.5v1.46M82.08 347.5v1.46M97.69 347.5v1.46M113.3 347.5v1.46M128.91 347.5v1.46M144.52 347.5v1.46M160.13 347.5v1.46M175.74 347.5v1.46M191.35 347.5v1.46M206.96 347.5v1.46M222.57 347.5v1.46M238.18 347.5v1.46M253.79 347.5v1.46M269.4 347.5v1.46M27.45 344.25h-1.46M27.45 329.97h-1.46M27.45 315.69h-1.46M27.45 301.41h-1.46M27.45 287.13h-1.46M27.45 272.85h-1.46" stroke="#8c8c8c" stroke-width="0.88" fill="none"/>
<text transform="translate(24.53 346.03) skewY(0.1)" text-anchor="end">0.000</text>
<text transform="translate(24.53 331.75) skewY(0.1)" text-anchor="end">0.001</text>
<text transform="translate(24.53 317.47) skewY(0.1)" text-anchor="end">0.002</text>
<text transform="translate(24.53 303.19) skewY(0.1)" text-anchor="end">0.003</text>
<text transform="translate(24.53 288.91) skewY(0.1)" text-anchor="end">0.004</text>
<text transform="translate(24.53 274.63) skewY(0.1)" text-anchor="end">0.005</text>
<text transform="translate(152.32 269.45) skewY(0.1)" text-anchor="middle">Function = F7</text>
<text transform="translate(9.83 309.7) rotate(-90) skewY(0.1)" text-anchor="middle">Cost</text>
<text transform="translate(36.36 351.92) rotate(-90) skewY(0.1)" stroke-width="0.05" text-anchor="end">Map1</text>
<text transform="translate(51.97 351.92) rotate(-90) skewY(0.1)" stroke-width="0.05" text-anchor="end">Map2</text>
<text transform="translate(67.58 351.92) rotate(-90) skewY(0.1)" stroke-width="0.05" text-anchor="end">Map3</text>
<text transform="translate(83.19 351.92) rotate(-90) skewY(0.1)" stroke-width="0.05" text-anchor="end">Map4</text>
<text transform="translate(98.8 351.92) rotate(-90) skewY(0.1)" stroke-width="0.05" text-anchor="end">Map5</text>
<text transform="translate(114.41 351.92) rotate(-90) skewY(0.1)" stroke-width="0.05" text-anchor="end">Map6</text>
<text transform="translate(130.02 351.92) rotate(-90) skewY(0.1)" stroke-width="0.05" text-anchor="end">Map7</text>
<text transform="translate(145.63 351.92) rotate(-90) skewY(0.1)" stroke-width="0.05" text-anchor="end">Map8</text>
<text transform="translate(161.23 351.92) rotate(-90) skewY(0.1)" stroke-width="0.05" text-anchor="end">Map9</text>
<text transform="translate(176.84 351.92) rotate(-90) skewY(0.1)" stroke-width="0.05" text-anchor="end">Map10</text>
<text transform="translate(192.45 351.92) rotate(-90) skewY(0.1)" stroke-width="0.05" text-anchor="end">Map11</text>
<text transform="translate(208.06 351.92) rotate(-90) skewY(0.1)" stroke-width="0.05" text-anchor="end">Map12</text>
<text transform="translate(223.67 351.92) rotate(-90) skewY(0.1)" stroke-width="0.05" text-anchor="end">SE-SCSO</text>
<text transform="translate(239.28 351.92) rotate(-90) skewY(0.1)" stroke-width="0.05" text-anchor="end">COWO</text>
<text transform="translate(254.89 351.92) rotate(-90) skewY(0.1)" stroke-width="0.05" text-anchor="end">CMPA</text>
<text transform="translate(270.5 351.92) rotate(-90) skewY(0.1)" stroke-width="0.05" text-anchor="end">CWOA</text>
<text transform="translate(152.32 374.45) skewY(0.1)" text-anchor="middle">Algorithm</text>
</g>
<g>
<line x1="295.46" x2="308.55" y1="344.35" y2="344.35" stroke="#848484" stroke-width="1.3"/>
<polygon points="302.01,342.9 302.96,344.35 302.01,345.8 301.06,344.35" fill="#1c1c1c" stroke="#1c1c1c" stroke-width="0.45"/>
<line x1="311.07" x2="324.16" y1="344.35" y2="344.35" stroke="#848484" stroke-width="1.3"/>
<polygon points="317.62,342.9 318.57,344.35 317.62,345.8 316.67,344.35" fill="#1c1c1c" stroke="#1c1c1c" stroke-width="0.45"/>
<line x1="326.69" x2="339.78" y1="344.35" y2="344.35" stroke="#848484" stroke-width="1.3"/>
<polygon points="333.23,342.9 334.18,344.35 333.23,345.8 332.28,344.35" fill="#1c1c1c" stroke="#1c1c1c" stroke-width="0.45"/>
<line x1="342.3" x2="355.39" y1="344.35" y2="344.35" stroke="#848484" stroke-width="1.3"/>
<polygon points="348.84,342.9 349.79,344.35 348.84,345.8 347.89,344.35" fill="#1c1c1c" stroke="#1c1c1c" stroke-width="0.45"/>
<line x1="357.91" x2="371" y1="344.35" y2="344.35" stroke="#848484" stroke-width="1.3"/>
<polygon points="364.46,342.9 365.41,344.35 364.46,345.8 363.51,344.35" fill="#1c1c1c" stroke="#1c1c1c" stroke-width="0.45"/>
<line x1="373.52" x2="386.61" y1="344.35" y2="344.35" stroke="#848484" stroke-width="1.3"/>
<polygon points="380.07,342.9 381.02,344.35 380.07,345.8 379.12,344.35" fill="#1c1c1c" stroke="#1c1c1c" stroke-width="0.45"/>
<line x1="389.14" x2="402.23" y1="344.35" y2="344.35" stroke="#848484" stroke-width="1.3"/>
<polygon points="395.68,342.9 396.63,344.35 395.68,345.8 394.73,344.35" fill="#1c1c1c" stroke="#1c1c1c" stroke-width="0.45"/>
<line x1="404.75" x2="417.84" y1="344.35" y2="344.35" stroke="#848484" stroke-width="1.3"/>
<polygon points="411.29,342.9 412.24,344.35 411.29,345.8 410.34,344.35" fill="#1c1c1c" stroke="#1c1c1c" stroke-width="0.45"/>
<line x1="420.36" x2="433.45" y1="344.35" y2="344.35" stroke="#848484" stroke-width="1.3"/>
<polygon points="426.91,342.9 427.86,344.35 426.91,345.8 425.96,344.35" fill="#1c1c1c" stroke="#1c1c1c" stroke-width="0.45"/>
<line x1="435.97" x2="449.06" y1="344.35" y2="344.35" stroke="#848484" stroke-width="1.3"/>
<polygon points="442.52,342.9 443.47,344.35 442.52,345.8 441.57,344.35" fill="#1c1c1c" stroke="#1c1c1c" stroke-width="0.45"/>
<line x1="451.59" x2="464.68" y1="344.35" y2="344.35" stroke="#848484" stroke-width="1.3"/>
<polygon points="458.13,342.9 459.08,344.35 458.13,345.8 457.18,344.35" fill="#1c1c1c" stroke="#1c1c1c" stroke-width="0.45"/>
<line x1="467.2" x2="480.29" y1="344.35" y2="344.35" stroke="#848484" stroke-width="1.3"/>
<polygon points="473.74,342.9 474.69,344.35 473.74,345.8 472.79,344.35" fill="#1c1c1c" stroke="#1c1c1c" stroke-width="0.45"/>
<line x1="482.81" x2="495.9" y1="344.35" y2="344.35" stroke="#848484" stroke-width="1.3"/>
<polygon points="489.36,342.9 490.31,344.35 489.36,345.8 488.41,344.35" fill="#1c1c1c" stroke="#1c1c1c" stroke-width="0.45"/>
<line x1="498.42" x2="511.51" y1="344.35" y2="344.35" stroke="#848484" stroke-width="1.3"/>
<polygon points="504.97,342.9 505.92,344.35 504.97,345.8 504.02,344.35" fill="#1c1c1c" stroke="#1c1c1c" stroke-width="0.45"/>
<path d="M520.58 275.1V304.4M520.58 327.2V343.8M517.46 275.1H523.7M517.46 343.8H523.7" stroke="#3d3d3d" stroke-width="0.66" fill="none"/>
<rect x="514.34" y="304.4" width="12.49" height="22.8" fill="#2c77b1" stroke="#3d3d3d" stroke-width="0.62"/>
<line x1="514.34" x2="526.83" y1="313.6" y2="313.6" stroke="#3d3d3d" stroke-width="0.62"/>
<line x1="529.65" x2="542.74" y1="344.35" y2="344.35" stroke="#848484" stroke-width="1.3"/>
<polygon points="536.19,342.9 537.14,344.35 536.19,345.8 535.24,344.35" fill="#1c1c1c" stroke="#1c1c1c" stroke-width="0.45"/>
<rect x="294.2" y="271.9" width="249.8" height="75.6" fill="none" stroke="#8c8c8c" stroke-width="0.88"/>
<path d="M302.01 347.5v1.46M317.62 347.5v1.46M333.23 347.5v1.46M348.84 347.5v1.46M364.46 347.5v1.46M380.07 347.5v1.46M395.68 347.5v1.46M411.29 347.5v1.46M426.91 347.5v1.46M442.52 347.5v1.46M458.13 347.5v1.46M473.74 347.5v1.46M489.36 347.5v1.46M504.97 347.5v1.46M520.58 347.5v1.46M536.19 347.5v1.46M294.2 344.35h-1.46M294.2 334.81h-1.46M294.2 325.27h-1.46M294.2 315.73h-1.46M294.2 306.19h-1.46M294.2 296.65h-1.46M294.2 287.11h-1.46M294.2 277.57h-1.46" stroke="#8c8c8c" stroke-width="0.88" fill="none"/>
<text transform="translate(291.28 346.13) skewY(0.1)" text-anchor="end">0.0</text>
<text transform="translate(291.28 336.59) skewY(0.1)" text-anchor="end">0.2</text>
<text transform="translate(291.28 327.05) skewY(0.1)" text-anchor="end">0.4</text>
<text transform="translate(291.28 317.51) skewY(0.1)" text-anchor="end">0.6</text>
<text transform="translate(291.28 307.97) skewY(0.1)" text-anchor="end">0.8</text>
<text transform="translate(291.28 298.43) skewY(0.1)" text-anchor="end">1.0</text>
<text transform="translate(291.28 288.89) skewY(0.1)" text-anchor="end">1.2</text>
<text transform="translate(291.28 279.35) skewY(0.1)" text-anchor="end">1.4</text>
<text transform="translate(419.1 269.45) skewY(0.1)" text-anchor="middle">Function = F8</text>
<text transform="translate(294.2 271) skewY(0.1)">1e−15</text>
<text transform="translate(303.11 351.92) rotate(-90) skewY(0.1)" stroke-width="0.05" text-anchor="end">Map1</text>
<text transform="translate(318.72 351.92) rotate(-90) skewY(0.1)" stroke-width="0.05" text-anchor="end">Map2</text>
<text transform="translate(334.34 351.92) rotate(-90) skewY(0.1)" stroke-width="0.05" text-anchor="end">Map3</text>
<text transform="translate(349.95 351.92) rotate(-90) skewY(0.1)" stroke-width="0.05" text-anchor="end">Map4</text>
<text transform="translate(365.56 351.92) rotate(-90) skewY(0.1)" stroke-width="0.05" text-anchor="end">Map5</text>
<text transform="translate(381.17 351.92) rotate(-90) skewY(0.1)" stroke-width="0.05" text-anchor="end">Map6</text>
<text transform="translate(396.79 351.92) rotate(-90) skewY(0.1)" stroke-width="0.05" text-anchor="end">Map7</text>
<text transform="translate(412.4 351.92) rotate(-90) skewY(0.1)" stroke-width="0.05" text-anchor="end">Map8</text>
<text transform="translate(428.01 351.92) rotate(-90) skewY(0.1)" stroke-width="0.05" text-anchor="end">Map9</text>
<text transform="translate(443.62 351.92) rotate(-90) skewY(0.1)" stroke-width="0.05" text-anchor="end">Map10</text>
<text transform="translate(459.24 351.92) rotate(-90) skewY(0.1)" stroke-width="0.05" text-anchor="end">Map11</text>
<text transform="translate(474.85 351.92) rotate(-90) skewY(0.1)" stroke-width="0.05" text-anchor="end">Map12</text>
<text transform="translate(490.46 351.92) rotate(-90) skewY(0.1)" stroke-width="0.05" text-anchor="end">SE-SCSO</text>
<text transform="translate(506.07 351.92) rotate(-90) skewY(0.1)" stroke-width="0.05" text-anchor="end">COWO</text>
<text transform="translate(521.69 351.92) rotate(-90) skewY(0.1)" stroke-width="0.05" text-anchor="end">CMPA</text>
<text transform="translate(537.3 351.92) rotate(-90) skewY(0.1)" stroke-width="0.05" text-anchor="end">CWOA</text>
<text transform="translate(419.1 374.45) skewY(0.1)" text-anchor="middle">Algorithm</text>
</g>
</g>
</svg>
</body>
</html>
